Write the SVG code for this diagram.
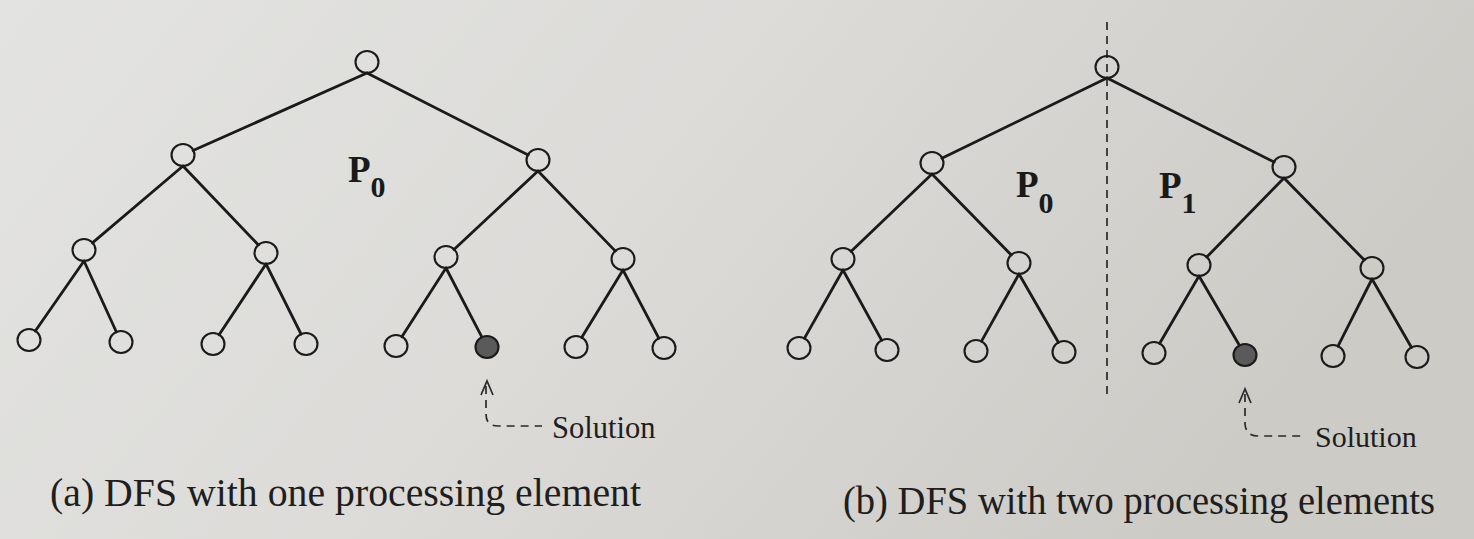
<svg xmlns="http://www.w3.org/2000/svg" width="1474" height="539" viewBox="0 0 1474 539">
<defs>
<linearGradient id="bg" x1="0" y1="0" x2="1" y2="0.3">
<stop offset="0" stop-color="#e3e3e1"/>
<stop offset="0.5" stop-color="#dcdbd8"/>
<stop offset="1" stop-color="#cdcbc6"/>
</linearGradient>
<style>
.edge{stroke:#1a1a1a;stroke-width:2.8;fill:none;stroke-linecap:round}
.node{fill:none;stroke:#1a1a1a;stroke-width:2.1}
.sol{fill:#5a5a5a;stroke:#1a1a1a;stroke-width:2.1}
.dash{stroke:#2a2a2a;stroke-width:1.7;fill:none;stroke-dasharray:8 6}
.arr{stroke:#2a2a2a;stroke-width:1.7;fill:none}
.lbl{font-family:"Liberation Serif","Times New Roman",serif;font-weight:bold;fill:#1a1a1a}
.txt{font-family:"Liberation Serif","Times New Roman",serif;fill:#1e1e1e}
</style>
</defs>
<rect width="1474" height="539" fill="url(#bg)"/>

<g id="connectors">
<!-- tree a -->
<line class="edge" x1="367" y1="73" x2="193.1" y2="150.5"/>
<line class="edge" x1="367" y1="73" x2="528.2" y2="155"/>
<line class="edge" x1="183" y1="166" x2="92.4" y2="242.9"/>
<line class="edge" x1="183" y1="166" x2="258.4" y2="245"/>
<line class="edge" x1="538" y1="171" x2="454" y2="249.5"/>
<line class="edge" x1="538" y1="171" x2="615.4" y2="251.1"/>
<line class="edge" x1="84" y1="261" x2="35.3" y2="331"/>
<line class="edge" x1="84" y1="261" x2="116.4" y2="332"/>
<line class="edge" x1="266" y1="264" x2="219.1" y2="334.8"/>
<line class="edge" x1="266" y1="264" x2="301.1" y2="334.2"/>
<line class="edge" x1="446" y1="268" x2="401.9" y2="336.7"/>
<line class="edge" x1="446" y1="268" x2="481.9" y2="337.2"/>
<line class="edge" x1="623" y1="270" x2="581.7" y2="337.6"/>
<line class="edge" x1="623" y1="270" x2="658.9" y2="338.3"/>
<!-- tree b -->
<line class="edge" x1="1107" y1="78" x2="941.9" y2="158.2"/>
<line class="edge" x1="1107" y1="78" x2="1274.2" y2="162.1"/>
<line class="edge" x1="932" y1="174" x2="851" y2="251.4"/>
<line class="edge" x1="932" y1="174" x2="1011.3" y2="255.1"/>
<line class="edge" x1="1284" y1="178" x2="1206.7" y2="257.1"/>
<line class="edge" x1="1284" y1="178" x2="1364.3" y2="260.1"/>
<line class="edge" x1="843" y1="270" x2="804.4" y2="338.4"/>
<line class="edge" x1="843" y1="270" x2="881.7" y2="340.4"/>
<line class="edge" x1="1019" y1="274" x2="981.4" y2="341.4"/>
<line class="edge" x1="1019" y1="274" x2="1058.5" y2="342.5"/>
<line class="edge" x1="1199" y1="276" x2="1159.6" y2="343.5"/>
<line class="edge" x1="1199" y1="276" x2="1239.5" y2="345.5"/>
<line class="edge" x1="1372" y1="279" x2="1338" y2="346.2"/>
<line class="edge" x1="1372" y1="279" x2="1411.5" y2="347.5"/>
<!-- partition line -->
<line class="dash" x1="1107" y1="22" x2="1107" y2="400"/>
<!-- solution pointers -->
<path class="dash" d="M486 386 L486 414 Q486 426 498 426 L542 426" stroke-dasharray="7 5"/>
<polyline class="arr" points="481,395 487,381 493,395"/>
<path class="dash" d="M1245 394 L1245 424 Q1246 436 1258 436 L1303 436" stroke-dasharray="7 5"/>
<polyline class="arr" points="1239,403 1245,389 1251,403"/>
</g>

<g id="tree-a">
<g id="a-root"><ellipse class="node" cx="367" cy="62" rx="11.5" ry="11"/></g>
<g id="a-n1"><ellipse class="node" cx="183" cy="155" rx="11.5" ry="11"/></g>
<g id="a-n2"><ellipse class="node" cx="538" cy="160" rx="11.5" ry="11"/></g>
<g id="a-n3"><ellipse class="node" cx="84" cy="250" rx="11.5" ry="11"/></g>
<g id="a-n4"><ellipse class="node" cx="266" cy="253" rx="11.5" ry="11"/></g>
<g id="a-n5"><ellipse class="node" cx="446" cy="257" rx="11.5" ry="11"/></g>
<g id="a-n6"><ellipse class="node" cx="623" cy="259" rx="11.5" ry="11"/></g>
<g id="a-l1"><ellipse class="node" cx="29" cy="340" rx="11.5" ry="11"/></g>
<g id="a-l2"><ellipse class="node" cx="121" cy="342" rx="11.5" ry="11"/></g>
<g id="a-l3"><ellipse class="node" cx="213" cy="344" rx="11.5" ry="11"/></g>
<g id="a-l4"><ellipse class="node" cx="306" cy="344" rx="11.5" ry="11"/></g>
<g id="a-l5"><ellipse class="node" cx="396" cy="346" rx="11.5" ry="11"/></g>
<g id="a-l6"><ellipse class="sol" cx="487" cy="347" rx="11.5" ry="11"/></g>
<g id="a-l7"><ellipse class="node" cx="576" cy="347" rx="11.5" ry="11"/></g>
<g id="a-l8"><ellipse class="node" cx="664" cy="348" rx="11.5" ry="11"/></g>
</g>

<g id="tree-b">
<g id="b-root"><ellipse class="node" cx="1107" cy="67" rx="11.5" ry="11"/></g>
<g id="b-n1"><ellipse class="node" cx="932" cy="163" rx="11.5" ry="11"/></g>
<g id="b-n2"><ellipse class="node" cx="1284" cy="167" rx="11.5" ry="11"/></g>
<g id="b-n3"><ellipse class="node" cx="843" cy="259" rx="11.5" ry="11"/></g>
<g id="b-n4"><ellipse class="node" cx="1019" cy="263" rx="11.5" ry="11"/></g>
<g id="b-n5"><ellipse class="node" cx="1199" cy="265" rx="11.5" ry="11"/></g>
<g id="b-n6"><ellipse class="node" cx="1372" cy="268" rx="11.5" ry="11"/></g>
<g id="b-l1"><ellipse class="node" cx="799" cy="348" rx="11.5" ry="11"/></g>
<g id="b-l2"><ellipse class="node" cx="887" cy="350" rx="11.5" ry="11"/></g>
<g id="b-l3"><ellipse class="node" cx="976" cy="351" rx="11.5" ry="11"/></g>
<g id="b-l4"><ellipse class="node" cx="1064" cy="352" rx="11.5" ry="11"/></g>
<g id="b-l5"><ellipse class="node" cx="1154" cy="353" rx="11.5" ry="11"/></g>
<g id="b-l6"><ellipse class="sol" cx="1245" cy="355" rx="11.5" ry="11"/></g>
<g id="b-l7"><ellipse class="node" cx="1333" cy="356" rx="11.5" ry="11"/></g>
<g id="b-l8"><ellipse class="node" cx="1417" cy="357" rx="11.5" ry="11"/></g>
</g>

<g id="labels">
<text class="lbl" x="348" y="182" font-size="37">P<tspan dy="15" font-size="30">0</tspan></text>
<text class="lbl" x="1016" y="197" font-size="37">P<tspan dy="16" font-size="30">0</tspan></text>
<text class="lbl" x="1159" y="198" font-size="37">P<tspan dy="15" font-size="30">1</tspan></text>
<text class="txt" x="552" y="438" font-size="30.5">Solution</text>
<text class="txt" x="1315" y="447" font-size="30">Solution</text>
<text class="txt" x="50" y="506" font-size="39" textLength="591" lengthAdjust="spacingAndGlyphs">(a)  DFS with one processing element</text>
<text class="txt" x="843" y="514" font-size="39" textLength="592" lengthAdjust="spacingAndGlyphs">(b)  DFS with two processing elements</text>
</g>
</svg>
